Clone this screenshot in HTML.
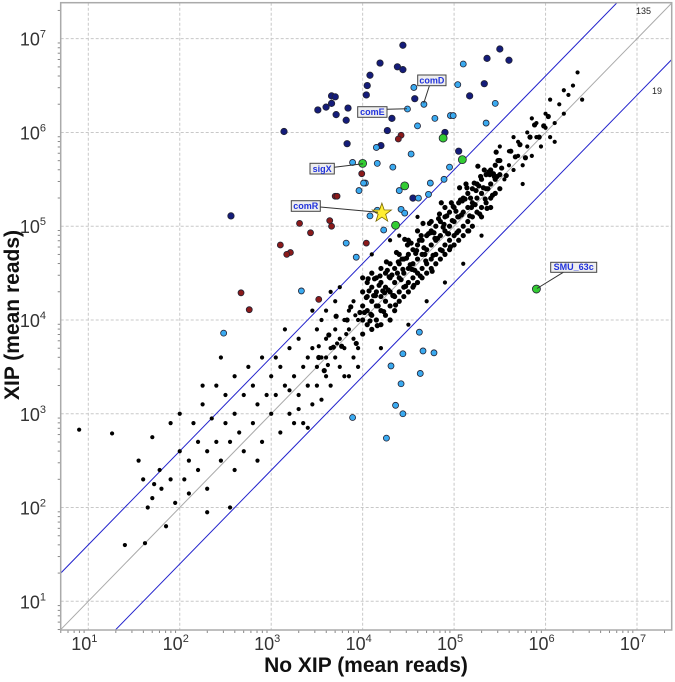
<!DOCTYPE html>
<html><head><meta charset="utf-8"><style>
html,body{margin:0;padding:0;background:#fff;overflow:hidden;width:675px;height:682px;}
svg{display:block;font-family:"Liberation Sans",sans-serif;}
</style></head><body>
<svg id="chart" width="675" height="682" viewBox="0 0 675 682" xmlns="http://www.w3.org/2000/svg">
<g id="grid"></g>
<g id="lines"></g>
<g id="pts"></g>
<g id="ann"></g>
<g id="axes"></g>
<text transform="translate(19,315) rotate(-90)" text-anchor="middle" font-size="21" font-weight="bold" fill="#111">XIP (mean reads)</text>
<text x="366" y="672" text-anchor="middle" font-size="21" font-weight="bold" fill="#111">No XIP (mean reads)</text>
</svg>
<script>
// log10 values
const tickExps = [1,2,3,4,5,6,7];
const navyX = [4.44,5.50,5.36,5.60,4.19,4.38,4.44,4.08,5.33,4.05,4.04,4.57,5.17,3.66,3.70,3.66,3.60,3.51,3.84,3.71,4.32,3.82,3.14,4.27,4.90,3.83,4.20,5.05,2.56,4.55];
const navyY = [6.93,6.89,6.79,6.77,6.74,6.70,6.67,6.61,6.52,6.50,6.40,6.36,6.39,6.39,6.38,6.31,6.27,6.24,6.26,6.19,6.15,6.13,6.01,6.02,6.00,5.88,5.86,5.80,5.11,5.30];
const lightX = [5.10,4.56,5.04,5.45,4.67,4.49,4.79,4.96,4.99,4.60,5.35,4.15,4.53,3.89,4.16,4.33,4.95,4.03,4.01,4.74,4.89,3.96,4.40,4.72,4.61,4.42,4.46,4.16,4.08,4.23,3.82,3.93,3.33,2.48,4.62,4.44,4.66,4.78,4.31,4.63,4.42,4.36,4.44,3.89,4.26];
const lightY = [6.73,6.48,6.51,6.31,6.30,6.25,6.15,6.18,6.18,6.07,6.10,5.84,5.77,5.68,5.67,5.63,5.63,5.46,5.46,5.46,5.50,5.38,5.38,5.34,5.30,5.18,5.14,5.17,5.11,4.96,4.82,4.67,4.31,3.86,3.87,3.64,3.67,3.65,3.51,3.43,3.32,3.09,3.00,2.96,2.74];
const redX = [4.42,4.39,3.99,3.70,3.72,3.31,3.64,3.66,3.43,3.10,3.21,3.17,4.04,2.67,2.76,3.52];
const redY = [5.97,5.93,5.56,5.32,5.32,5.03,5.06,5.00,4.93,4.80,4.72,4.70,4.82,4.29,4.11,4.22];
const greenX = [4.88,5.09,4.00,4.46,4.36,5.90];
const greenY = [5.94,5.71,5.67,5.43,5.01,4.33];
const starX = [4.21];
const starY = [5.14];
const blackX = [0.90,1.26,1.55,1.6,1.7,1.72,1.65,1.8,1.78,1.62,1.9,1.95,2.0,2.05,2.1,2.1,2.15,2.2,2.2,2.25,2.3,2.3,2.35,2.4,2.4,2.45,2.5,2.5,2.55,2.55,2.6,2.6,2.65,2.7,2.7,2.75,2.8,2.8,2.85,2.9,2.9,2.95,1.9,1.7,2.0,2.3,1.4,2.25,2.6,2.85,1.85,2.45,
3.0,3.0,3.05,3.1,3.1,3.15,3.2,3.2,3.25,3.3,3.3,3.35,3.35,3.4,3.4,3.45,3.45,3.5,3.5,3.5,3.55,3.55,3.6,3.6,3.6,3.65,3.65,3.7,3.7,3.7,3.75,3.75,3.8,3.8,3.8,3.85,3.85,3.9,3.9,3.9,3.95,3.95,3.05,3.25,3.15,3.45,3.65,3.95,3.3,3.75,3.85,3.55,3.4,3.2,3.6,3.72,3.82,3.92,3.62,3.52,
4.1,4.3,4.5,4.7,4.9,4.2,4.6,5.1,5.3,4.4,
5.55,5.6,5.6,5.65,5.7,5.7,5.75,5.8,5.8,5.85,5.9,5.9,5.95,6.0,6.0,6.05,6.1,6.15,6.2,6.25,6.35,6.3,6.4,5.65,5.85,6.05,5.5,5.75,6.1,6.2];
const blackY = [2.83,2.79,2.5,2.3,2.1,2.25,2.0,2.2,2.4,1.62,2.3,2.05,2.6,2.3,2.5,2.15,2.9,2.4,2.7,3.1,2.6,2.2,2.95,2.7,3.3,2.5,2.9,3.2,2.7,2.0,3.0,3.4,2.8,3.2,2.6,3.5,2.9,3.3,3.1,2.7,3.6,3.2,2.9,2.75,3.0,1.95,1.6,3.3,2.4,2.5,1.8,3.6,
3.0,3.4,3.2,2.8,3.5,3.3,3.0,3.7,3.4,3.2,3.8,3.5,2.9,3.6,3.3,3.7,3.1,3.5,3.9,3.3,3.6,4.0,3.4,3.8,3.6,3.7,3.3,3.9,3.6,4.2,3.8,3.5,3.7,4.0,3.4,3.9,4.1,3.8,3.6,4.2,4.0,3.7,3.6,2.9,3.9,4.1,4.3,3.5,3.05,4.35,3.4,3.15,2.85,3.25,4.1,3.75,3.85,4.05,3.52,3.72,
4.7,4.85,3.95,4.2,4.4,3.7,5.1,4.6,4.9,4.9,
5.5,5.65,5.8,5.6,5.75,5.9,5.65,5.85,6.0,5.75,5.95,6.1,5.85,6.05,6.2,5.95,6.1,6.3,6.2,6.4,6.64,6.5,6.35,5.95,6.15,6.35,5.85,5.45,5.9,6.45];
const coreX = [3.52,3.58,3.63,3.68,3.71,3.77,3.83,3.87,3.93,3.97,4.02,4.07,4.08,4.12,4.13,4.17,4.18,4.22,4.23,4.27,4.28,4.32,4.33,4.37,4.38,4.42,4.43,4.47,4.48,4.52,4.53,4.57,4.58,4.62,4.63,4.67,4.68,4.72,4.73,4.77,4.78,4.82,4.83,4.87,4.88,4.92,4.93,4.97,4.98,5.02,5.03,5.07,5.08,5.12,5.13,5.17,5.18,5.22,5.23,5.27,5.28,5.32,5.33,5.37,5.38,5.42,5.43,5.47,5.48,5.52,5.57,5.62,5.67,5.72,5.78,5.83,5.88,5.93,5.98,6.03,
4.04,4.09,4.14,4.19,4.24,4.29,4.34,4.39,4.44,4.49,4.54,4.59,4.64,4.69,4.74,4.79,4.84,4.89,4.94,4.99,5.04,5.09,5.14,5.19,5.24,5.29,5.34,5.39,5.44,5.49,4.06,4.16,4.26,4.36,4.46,4.56,4.66,4.76,4.86,4.96,5.06,5.16,5.26,5.36,5.46];
const coreY = [3.60,3.46,3.84,3.71,4.04,3.72,4.00,4.14,3.75,4.08,4.08,4.31,3.99,4.26,4.44,4.15,4.37,4.31,4.09,4.53,4.32,4.48,4.26,4.72,4.50,4.43,4.65,4.36,4.66,4.59,4.82,4.53,4.71,4.85,4.47,4.77,4.70,4.92,5.03,4.69,4.93,4.87,5.08,4.74,4.99,5.11,4.92,5.25,5.06,5.16,4.93,5.28,5.12,5.29,5.45,5.11,5.30,5.46,5.23,5.43,5.13,5.41,5.60,5.40,5.58,5.33,5.56,5.53,5.70,5.62,5.54,5.80,5.74,5.87,5.73,5.95,6.08,5.95,6.07,6.17,
4.24,4.06,4.26,4.47,4.29,4.46,4.26,4.62,4.54,4.80,4.54,4.74,4.90,4.63,4.93,4.87,5.13,5.02,4.92,5.21,5.10,5.27,5.41,5.20,5.38,5.53,5.29,5.55,5.53,5.70,4.44,3.94,4.62,4.16,4.86,4.37,5.03,4.52,5.25,4.78,5.41,4.95,5.64,5.19,5.79];
const denseX = [4.0,4.05,4.1,4.15,4.2,4.25,4.3,4.35,4.4,4.45,4.5,4.55,4.6,4.65,4.7,4.75,4.8,4.85,4.9,4.95,5.0,5.05,5.1,5.15,5.2,5.25,5.3,5.35,5.4,5.45,5.5];
const denseY = [[4.0,4.15,4.3,3.85,4.45],[4.1,4.25,3.95,4.4],[4.05,4.2,4.35,4.5,3.9],[4.15,4.3,4.0,4.45],[4.1,4.25,4.4,4.55,3.95],[4.2,4.35,4.5,4.05],[4.15,4.3,4.45,4.6,4.0],[4.25,4.4,4.55,4.1],[4.3,4.45,4.6,4.2,4.7],[4.35,4.5,4.65,4.25],[4.4,4.55,4.7,4.3,4.85],[4.45,4.6,4.75,4.35],[4.5,4.65,4.8,4.4,4.95],[4.55,4.7,4.85,4.45],[4.6,4.75,4.9,4.5],[4.65,4.8,4.95,4.55,5.05],[4.7,4.85,5.0,4.6],[4.75,4.9,5.05,4.65],[4.8,4.95,5.1,4.7,5.2],[4.85,5.0,5.15,4.75],[4.9,5.05,5.2,4.8],[4.95,5.1,5.25,4.85],[5.0,5.15,5.3,4.9],[5.05,5.2,5.35,4.95],[5.1,5.25,5.4,5.0],[5.15,5.3,5.45],[5.2,5.35,5.5,5.1],[5.25,5.4,5.55],[5.3,5.45,5.6,5.2],[5.35,5.5,5.65],[5.4,5.55,5.7]];
const lineFactors = [1, 4, 0.25];

const NS='http://www.w3.org/2000/svg';
const L=60.7,R=671.7,T=2.7,B=630;
const x0=88.3, xd=91.45, y0=601.3, yd=93.77;
const sx=e=>x0+(e-1)*xd;
const sy=e=>y0-(e-1)*yd;
const xmin=1+(L-x0)/xd, xmax=1+(R-x0)/xd, ymin=1-(B-y0)/yd, ymax=1+(y0-T)/yd;
function mk(tag,attrs,parent){const el=document.createElementNS(NS,tag);for(const k in attrs)el.setAttribute(k,attrs[k]);parent.appendChild(el);return el;}
const grid=document.getElementById('grid'),axes=document.getElementById('axes'),lines=document.getElementById('lines'),pts=document.getElementById('pts'),ann=document.getElementById('ann');

tickExps.forEach(e=>{
  const gx=mk('line',{x1:sx(e),x2:sx(e),y1:T,y2:B,stroke:'#c8c8c8','stroke-dasharray':'3,2','stroke-width':1},grid);
  
  
  const gy=mk('line',{x1:L,x2:R,y1:sy(e),y2:sy(e),stroke:'#c8c8c8','stroke-dasharray':'3,2','stroke-width':1},grid);
  
  
  const tx=mk('text',{x:sx(e)-4,y:650,'text-anchor':'middle','font-size':18,fill:'#333'},axes);
  
  
  tx.innerHTML='10<tspan dy="-8" font-size="11">'+e+'</tspan>';
  const ty=mk('text',{x:46,y:sy(e)+7,'text-anchor':'end','font-size':18,fill:'#333'},axes);
  
  
  ty.innerHTML='10<tspan dy="-8" font-size="11">'+e+'</tspan>';
});
for(let e=0;e<=7;e++){for(let m=2;m<=9;m++){const v=e+Math.log10(m);
  if(v>xmin&&v<xmax){const t=mk('line',{x1:sx(v),x2:sx(v),y1:B,y2:B+3,stroke:'#888'},axes);}
  if(v>ymin&&v<ymax){const t=mk('line',{x1:L-3,x2:L,y1:sy(v),y2:sy(v),stroke:'#888'},axes);}
}}
const frame=mk('rect',{x:L,y:T,width:R-L,height:B-T,fill:'none',stroke:'#aaa','stroke-width':1.5},axes);



const cp=mk('clipPath',{id:'clip'},document.getElementById('chart'));
mk('rect',{x:L,y:T,width:R-L,height:B-T},cp);
lines.setAttribute('clip-path','url(#clip)');
lineFactors.forEach(k=>{const o=Math.log10(k);
  const ln=mk('line',{x1:sx(0),y1:sy(0+o),x2:sx(8),y2:sy(8+o),stroke:k===1?'#aaa':'#2222cc','stroke-width':1},lines);
  
  
});
const t135=mk('text',{x:636,y:14,'font-size':9,fill:'#222'},ann);t135.textContent='135';


const t19=mk('text',{x:652,y:94,'font-size':9,fill:'#222'},ann);t19.textContent='19';



function dot(x,y,r){const c=mk('circle',{cx:sx(x),cy:sy(y),r:r,fill:'#000'},pts);}
blackX.forEach((x,i)=>dot(x,blackY[i],2.1));
denseX.forEach((x,i)=>denseY[i].forEach(y=>dot(x,y,2.6)));
coreX.forEach((x,i)=>dot(x,coreY[i],2.6));
function colored(X,Y,fill,r,name){X.forEach((x,i)=>{const c=mk('circle',{cx:sx(x),cy:sy(Y[i]),r:r,fill:fill,stroke:'#223','stroke-width':0.8},pts);});}
colored(navyX,navyY,'#141c7a',3.2,'navy-point');
colored(lightX,lightY,'#3aaaf0',3.0,'lightblue-point');
colored(redX,redY,'#8b1a1a',3.0,'red-point');
colored(greenX,greenY,'#33cc33',4.0,'green-point');
starX.forEach((x,i)=>{const cx=sx(x),cy=sy(starY[i]);let p='';for(let j=0;j<10;j++){const a=-Math.PI/2+j*Math.PI/5,r=j%2?4:10;p+=(cx+r*Math.cos(a)).toFixed(1)+','+(cy+r*Math.sin(a)).toFixed(1)+' ';}
  const s=mk('polygon',{points:p,fill:'#ffee33',stroke:'#776600','stroke-width':0.8},pts);});

const labels=[['comD',417.7,75,28.3,10.7,429.3,86,423.7,103.3],['comE',357.7,106.7,29.3,10.6,387,109.3,407,108.7],['sigX',310,163.3,24.3,10.7,334.3,167.3,363,163.7],['comR',291.3,200.7,29,10.6,320.3,207,378,212.3],['SMU_63c',550.7,262.3,46,10,563.3,272.3,537,288.5]];
labels.forEach(l=>{
  const ln=mk('line',{x1:l[5],y1:l[6],x2:l[7],y2:l[8],stroke:'#333','stroke-width':1},ann);
  
  
  const r=mk('rect',{x:l[1],y:l[2],width:l[3],height:l[4],fill:'#eee',stroke:'#444','stroke-width':1},ann);
  
  
  const t=mk('text',{x:l[1]+l[3]/2,y:l[2]+l[4]-2.2,'text-anchor':'middle','font-size':9,'font-weight':'bold',fill:'#2233dd'},ann);
  
  
  t.textContent=l[0];
});
</script>
</body></html>
